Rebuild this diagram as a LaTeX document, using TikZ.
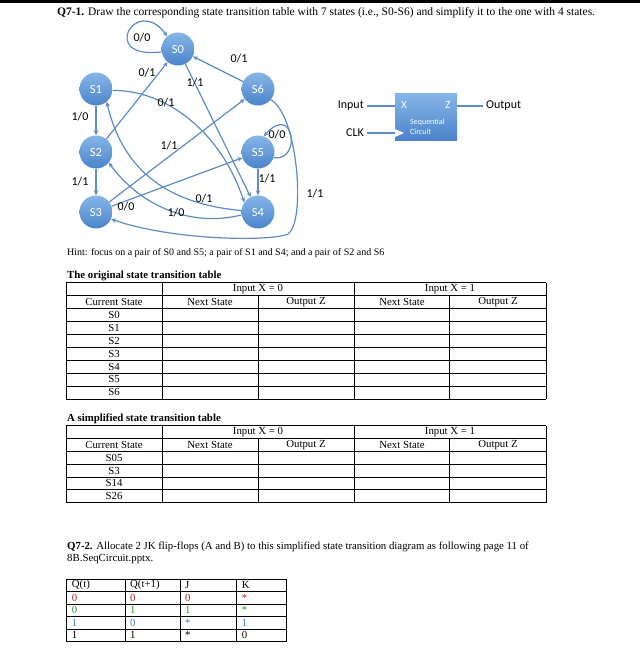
\documentclass[tikz,border=0pt]{standalone}
\usepackage{fontspec}
\setmainfont{Liberation Serif}
\newfontfamily\calibri{Carlito}
\usepackage{tikz}
\usetikzlibrary{arrows.meta,positioning}
\definecolor{edgeblue}{RGB}{91,141,196}
\definecolor{ballhi}{RGB}{134,182,232}
\definecolor{balllo}{RGB}{74,132,202}
\definecolor{kred}{RGB}{178,34,34}
\definecolor{kgreen}{RGB}{40,150,40}
\definecolor{kblue}{RGB}{60,120,216}
\tikzset{
  state/.style={circle,minimum size=33pt,inner sep=0pt,top color=ballhi,bottom color=balllo,text=white,font=\calibri\fontsize{12.5}{12.5}\selectfont},
  trans/.style={draw=edgeblue,line width=1.2pt,-{Stealth[length=5pt,width=4.5pt]}},
  lbl/.style={font=\calibri\fontsize{12}{12}\selectfont,inner sep=0pt},
  io/.style={font=\calibri\fontsize{12}{12}\selectfont,inner sep=3pt},
  wire/.style={draw=edgeblue,line width=1.2pt},
  seqbox/.style={rectangle,minimum width=62pt,minimum height=47pt,top color=ballhi,bottom color=balllo},
  boxtxt/.style={text=white,inner sep=0pt},
  txt/.style={font=\fontsize{10.8}{12}\selectfont,inner sep=0pt},
  cell/.style={font=\fontsize{10.8}{11}\selectfont,inner sep=0pt},
  grid/.style={line width=0.8pt}
}
\begin{document}
\begin{tikzpicture}[x=1pt,y=-1pt,>=Stealth]
\fill[white](0,0)rectangle(640,662);
\useasboundingbox(0,0)rectangle(640,662);
\fill[black](0,0)rectangle(640,2.5);
\node[txt,anchor=west,font=\fontsize{11.5}{12}\selectfont](q71) at (57,13){\textbf{Q7-1.} Draw the corresponding state transition table with 7 states (i.e., S0-S6) and simplify it to the one with 4 states.};

\node[state](s0) at (178,49){S0};
\node[state](s1) at (96,89){S1};
\node[state](s2) at (96,152){S2};
\node[state](s3) at (96,212){S3};
\node[state](s4) at (258,212){S4};
\node[state](s5) at (258,152){S5};
\node[state](s6) at (258,89){S6};
\draw[trans](s0.190) .. controls (98,60) and (136,-6) .. (s0.130);
\draw[trans](s2)--(s0);
\draw[trans](s0)--(s4);
\draw[trans](s6)--(s0);
\draw[trans](s1)--(s2);
\draw[trans](s2)--(s3);
\draw[trans](s3)--(s6);
\draw[trans](s3)--(s5);
\draw[trans](s5)--(s4);
\draw[trans](s1.-5) .. controls (165,90) and (220,130) .. (s4.145);
\draw[trans](s4.175) .. controls (180,205) and (125,180) .. (s1.-50);
\draw[trans](s4.190) .. controls (190,228) and (140,205) .. (s2.-40);
\draw[trans](s5.-20) .. controls (302,162) and (294,102) .. (s5.70);
\draw[trans](s6.-40) .. controls (298,115) and (306,222) .. (288,234) .. controls (270,242) and (170,240) .. (s3.-25);
\node[lbl](l00a) at (142,38){0/0};
\node[lbl](l20) at (147,73){0/1};
\node[lbl](l04) at (195,83){1/1};
\node[lbl](l60) at (239,59){0/1};
\node[lbl](l14) at (166,103){0/1};
\node[lbl](l12) at (80,117){1/0};
\node[lbl](l23) at (80,182){1/1};
\node[lbl](l36) at (169,146){1/1};
\node[lbl](l35) at (126,207){0/0};
\node[lbl](l41) at (204,199){0/1};
\node[lbl](l42) at (176,213){1/0};
\node[lbl](l55) at (277,135){0/0};
\node[lbl](l54) at (267,179){1/1};
\node[lbl](l63) at (315,194){1/1};

\node[seqbox](seq) at (426,116.5){};
\node[boxtxt,font=\calibri\fontsize{11}{11}\selectfont](x) at (404,105){X};
\node[boxtxt,font=\calibri\fontsize{11}{11}\selectfont](z) at (448,105){Z};
\node[boxtxt,font=\calibri\fontsize{8}{8}\selectfont,anchor=west](sq) at (410,122){Sequential};
\node[boxtxt,font=\calibri\fontsize{8}{8}\selectfont,anchor=west](ci) at (410,132){Circuit};
\fill[white](395,129)--(404,133)--(395,137)--cycle;
\node[io,anchor=east](in) at (367,106){Input};
\node[io,anchor=east](clk) at (367,133){CLK};
\node[io,anchor=west](out) at (483,106){Output};
\draw[wire](in)--(in-|seq.west);
\draw[wire](clk)--(clk-|seq.west);
\draw[wire](seq.east|-out)--(out);

\node[txt,anchor=west,font=\fontsize{10}{12}\selectfont](hint) at (67,253){Hint: focus on a pair of S0 and S5; a pair of S1 and S4; and a pair of S2 and S6};
\node[txt,anchor=west](t1) at (67,276){\textbf{The original state transition table}};
\foreach \r in {0,...,9} \draw[grid](66,{282.5+12.94*\r})--(546,{282.5+12.94*\r});
\foreach \c in {66,162,354,546} \draw[grid](\c,282.5)--(\c,399);
\foreach \c in {258,449} \draw[grid](\c,295.4)--(\c,399);
\node[cell](a0) at (258,289){Input X = 0};
\node[cell](a1) at (450,289){Input X = 1};
\foreach \t [count=\i] in {Current State,Next State,Output Z,Next State,Output Z}
  \node[cell](ah\i) at ({114+96*(\i-1)},302){\t};
\foreach \t [count=\i] in {S0,S1,S2,S3,S4,S5,S6}
  \node[cell](ar\i) at (114,{308.3+12.94*(\i-0.5)}){\t};

\node[txt,anchor=west](t2) at (67,419){\textbf{A simplified state transition table}};
\foreach \r in {0,...,6} \draw[grid](66,{425.7+12.8*\r})--(546,{425.7+12.8*\r});
\foreach \c in {66,162,354,546} \draw[grid](\c,425.7)--(\c,502.5);
\foreach \c in {258,449} \draw[grid](\c,438.5)--(\c,502.5);
\node[cell](b0) at (258,432){Input X = 0};
\node[cell](b1) at (450,432){Input X = 1};
\foreach \t [count=\i] in {Current State,Next State,Output Z,Next State,Output Z}
  \node[cell](bh\i) at ({114+96*(\i-1)},445){\t};
\foreach \t [count=\i] in {S05,S3,S14,S26}
  \node[cell](br\i) at (114,{451.3+12.8*(\i-0.5)}){\t};

\node[txt,anchor=west](q72) at (67,547){\textbf{Q7-2.} Allocate 2 JK flip-flops (A and B) to this simplified state transition diagram as following page 11 of};
\node[txt,anchor=west](q72b) at (67,559){8B.SeqCircuit.pptx.};
\foreach \r in {0,...,5} \draw[grid](66.7,{579+12.5*\r})--(286.7,{579+12.5*\r});
\foreach \c in {66.7,125,180,236.7,286.7} \draw[grid](\c,579)--(\c,641.5);
\foreach \t/\c [count=\i] in {Q(t)/66.7,Q(t+1)/125,J/180,K/236.7}
  \node[cell,anchor=west](kh\i) at (\c+5,585.2){\t};
\foreach \a/\b/\j/\k/\col [count=\i] in {0/0/0/*/kred,0/1/1/*/kgreen,1/0/*/1/kblue,1/1/*/0/black}{
  \node[cell,anchor=west,text=\col](ka\i) at (71.7,{585.2+12.5*\i}){\a};
  \node[cell,anchor=west,text=\col](kb\i) at (130,{585.2+12.5*\i}){\b};
  \node[cell,anchor=west,text=\col](kj\i) at (185,{585.2+12.5*\i}){\j};
  \node[cell,anchor=west,text=\col](kk\i) at (241.7,{585.2+12.5*\i}){\k};
}
\end{tikzpicture}
\end{document}
